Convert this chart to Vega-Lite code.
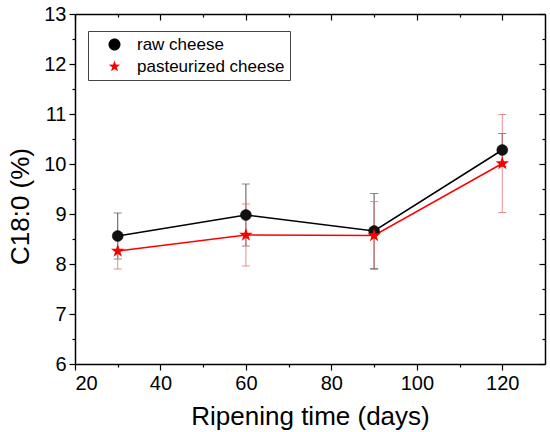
{
  "$schema": "https://vega.github.io/schema/vega-lite/v6.json",
  "width": 470,
  "height": 350,
  "autosize": {"type": "none"},
  "padding": {"left": 75, "top": 14, "right": 5, "bottom": 68},
  "background": "white",
  "config": {
    "font": "Liberation Sans",
    "view": {"stroke": null},
    "axis": {
      "domainColor": "black",
      "domainWidth": 1.5,
      "tickColor": "black",
      "tickWidth": 1.2,
      "labelColor": "black",
      "labelFontSize": 20,
      "titleColor": "black",
      "titleFontSize": 26,
      "titleFontWeight": "normal",
      "grid": false
    }
  },
  "data": {
    "values": [
      {"series": "raw cheese", "day": 30, "value": 8.56, "err": 0.46},
      {"series": "raw cheese", "day": 60, "value": 8.98, "err": 0.62},
      {"series": "raw cheese", "day": 90, "value": 8.66, "err": 0.75},
      {"series": "raw cheese", "day": 120, "value": 10.28, "err": 0.33},
      {"series": "pasteurized cheese", "day": 30, "value": 8.26, "err": 0.36},
      {"series": "pasteurized cheese", "day": 60, "value": 8.58, "err": 0.62},
      {"series": "pasteurized cheese", "day": 90, "value": 8.57, "err": 0.68},
      {"series": "pasteurized cheese", "day": 120, "value": 10.01, "err": 0.98}
    ]
  },
  "resolve": {"axis": {"x": "independent", "y": "independent"}},
  "layer": [
    {
      "transform": [{"filter": "datum.series === 'raw cheese'"}],
      "mark": {"type": "errorbar", "color": "#555555", "ticks": {"size": 8, "thickness": 1}, "rule": {"strokeWidth": 1}},
      "encoding": {
        "x": {"field": "day", "type": "quantitative", "scale": {"domain": [20, 130]}, "axis": null},
        "y": {"field": "value", "type": "quantitative", "scale": {"domain": [6, 13]}, "axis": null},
        "yError": {"field": "err"}
      }
    },
    {
      "transform": [{"filter": "datum.series === 'pasteurized cheese'"}],
      "mark": {"type": "errorbar", "color": "#e87070", "opacity": 0.8, "ticks": {"size": 8, "thickness": 1}, "rule": {"strokeWidth": 1}},
      "encoding": {
        "x": {"field": "day", "type": "quantitative", "axis": null},
        "y": {"field": "value", "type": "quantitative", "axis": null},
        "yError": {"field": "err"}
      }
    },
    {
      "transform": [{"filter": "datum.series === 'raw cheese'"}],
      "mark": {"type": "line", "color": "black", "strokeWidth": 1.5},
      "encoding": {
        "x": {"field": "day", "type": "quantitative", "axis": {"orient": "bottom", "values": [20, 40, 60, 80, 100, 120], "tickSize": 6, "labelPadding": 3, "format": "d", "title": "Ripening time (days)", "titlePadding": 10}},
        "y": {"field": "value", "type": "quantitative", "axis": {"orient": "left", "values": [6, 7, 8, 9, 10, 11, 12, 13], "tickSize": 6, "labelPadding": 3, "format": "d", "title": "C18:0 (%)", "titleX": -42, "titleY": 192}}
      }
    },
    {
      "transform": [{"filter": "datum.series === 'pasteurized cheese'"}],
      "mark": {"type": "line", "color": "red", "strokeWidth": 1.5},
      "encoding": {
        "x": {"field": "day", "type": "quantitative", "axis": {"orient": "bottom", "values": [30, 50, 70, 90, 110], "tickSize": 3, "labels": false, "domain": false, "title": null}},
        "y": {"field": "value", "type": "quantitative", "axis": {"orient": "left", "values": [6.5, 7.5, 8.5, 9.5, 10.5, 11.5, 12.5], "tickSize": 3, "labels": false, "domain": false, "title": null}}
      }
    },
    {
      "transform": [{"filter": "datum.series === 'raw cheese'"}],
      "mark": {"type": "point", "filled": true, "size": 120, "opacity": 1, "color": "#111111", "stroke": "#000000", "strokeWidth": 0.5},
      "encoding": {
        "x": {"field": "day", "type": "quantitative", "axis": {"orient": "top", "values": [20, 40, 60, 80, 100, 120], "tickSize": -6, "labels": false, "title": null}},
        "y": {"field": "value", "type": "quantitative", "axis": {"orient": "right", "values": [6, 7, 8, 9, 10, 11, 12, 13], "tickSize": -6, "labels": false, "title": null}}
      }
    },
    {
      "transform": [{"filter": "datum.series === 'pasteurized cheese'"}],
      "mark": {"type": "point", "filled": true, "size": 200, "opacity": 1},
      "encoding": {
        "x": {"field": "day", "type": "quantitative", "axis": {"orient": "top", "values": [30, 50, 70, 90, 110], "tickSize": -3, "labels": false, "domain": false, "title": null}},
        "y": {"field": "value", "type": "quantitative", "axis": {"orient": "right", "values": [6.5, 7.5, 8.5, 9.5, 10.5, 11.5, 12.5], "tickSize": -3, "labels": false, "domain": false, "title": null}},
        "shape": {
          "field": "series",
          "type": "nominal",
          "scale": {
            "domain": ["raw cheese", "pasteurized cheese"],
            "range": [
              "M1,0A1,1 0 1 1 -1,0A1,1 0 1 1 1,0Z",
              "M0,-1L0.235,-0.324L0.951,-0.309L0.38,0.124L0.588,0.809L0,0.4L-0.588,0.809L-0.38,0.124L-0.951,-0.309L-0.235,-0.324Z"
            ]
          },
          "legend": null
        },
        "color": {
          "field": "series",
          "type": "nominal",
          "scale": {"domain": ["raw cheese", "pasteurized cheese"], "range": ["black", "red"]},
          "legend": {
            "title": null,
            "orient": "none",
            "legendX": 13,
            "legendY": 17,
            "strokeColor": "#444444",
            "fillColor": "white",
            "padding": 5,
            "labelFontSize": 17,
            "labelColor": "black",
            "symbolSize": 144,
            "symbolOffset": 13,
            "labelOffset": 14,
            "rowPadding": 4
          }
        }
      }
    }
  ]
}
